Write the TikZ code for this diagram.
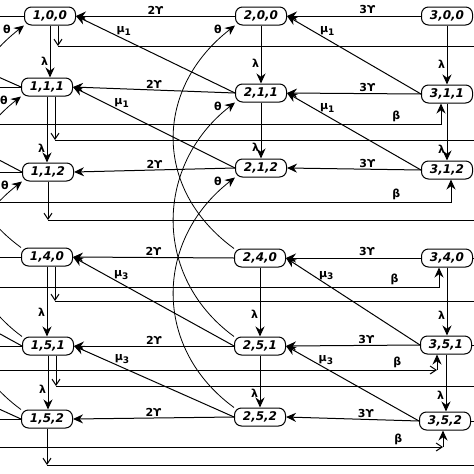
\documentclass[tikz,border=0pt]{standalone}
\usepackage{fontspec}
\setmainfont{DejaVu Sans}
\usetikzlibrary{arrows.meta}
\newcommand{\idx}[1]{\raisebox{-.45ex}{\fontsize{9}{10}\selectfont #1}}

\tikzset{
	st/.style={draw, line width=1pt, rounded corners=7pt, fill=white,
		minimum width=51pt, minimum height=18pt, inner sep=0pt,
		font=\fontsize{12}{13}\selectfont\bfseries\itshape},
	ghost/.style={minimum width=51pt, minimum height=18pt, inner sep=0pt},
	arr/.style={line width=1pt, -{Stealth[length=10pt,width=9pt]}},
	th/.style={line width=.8pt, -{Stealth[length=10pt,width=9pt]}},
	vt/.style={line width=1pt, -{Straight Barb[length=6pt,width=8pt]}},
	lbl/.style={font=\fontsize{11}{13}\selectfont\bfseries, inner sep=1.5pt},
}

\begin{document}
\begin{tikzpicture}[x=1pt, y=-1pt]
	\useasboundingbox (0,0) rectangle (474,474);
	\clip (0,0) rectangle (474,474);
	% states
	\node[st] (n100) at (50,16) {1,0,0};
	\node[st] (n200) at (261,16) {2,0,0};
	\node[st] (n300) at (447,16) {3,0,0};
	\node[st] (n111) at (47,87) {1,1,1};
	\node[st] (n211) at (261,93) {2,1,1};
	\node[st] (n311) at (447,94) {3,1,1};
	\node[st] (n112) at (48,172) {1,1,2};
	\node[st] (n212) at (261,168) {2,1,2};
	\node[st] (n312) at (447,170) {3,1,2};
	\node[st] (n140) at (47,257) {1,4,0};
	\node[st] (n240) at (260,258) {2,4,0};
	\node[st] (n340) at (447,258) {3,4,0};
	\node[st] (n151) at (48,346) {1,5,1};
	\node[st] (n251) at (260,346) {2,5,1};
	\node[st] (n351) at (446,345) {3,5,1};
	\node[st] (n152) at (47,419) {1,5,2};
	\node[st] (n252) at (260,417) {2,5,2};
	\node[st] (n352) at (445,421) {3,5,2};
	% column 0, outside the frame
	\node[ghost] (n000) at (-165,16) {};
	\node[ghost] (n011) at (-166,87) {};
	\node[ghost] (n012) at (-165,172) {};
	\node[ghost] (n040) at (-166,257) {};
	\node[ghost] (n051) at (-165,346) {};
	\node[ghost] (n052) at (-166,419) {};

	\draw[arr] (n200.west) -- (n100.east) node[lbl, midway, above] {2ϒ};
	\draw[arr] (n300.west) -- (n200.east) node[lbl, pos=.4, above] {3ϒ};
	\draw[arr] (n211.west) -- (n111.east) node[lbl, midway, above] {2ϒ};
	\draw[arr] (n311.west) -- (n211.east) node[lbl, pos=.4, above] {3ϒ};
	\draw[arr] (n212.west) -- (n112.east) node[lbl, midway, above] {2ϒ};
	\draw[arr] (n312.west) -- (n212.east) node[lbl, pos=.4, above] {3ϒ};
	\draw[arr] (n240.west) -- (n140.east) node[lbl, midway, above] {2ϒ};
	\draw[arr] (n340.west) -- (n240.east) node[lbl, pos=.4, above] {3ϒ};
	\draw[arr] (n251.west) -- (n151.east) node[lbl, midway, above] {2ϒ};
	\draw[arr] (n351.west) -- (n251.east) node[lbl, pos=.4, above] {3ϒ};
	\draw[arr] (n252.west) -- (n152.east) node[lbl, midway, above] {2ϒ};
	\draw[arr] (n352.west) -- (n252.east) node[lbl, pos=.4, above] {3ϒ};

	\draw[arr] (n311.west) -- (n200.east) node[lbl, pos=.7, above=2pt] {μ\idx{1}};
	\draw[arr] (n211.west) -- (n100.east) node[lbl, pos=.7, above=2pt] {μ\idx{1}};
	\draw[arr] (n312.west) -- (n211.east) node[lbl, pos=.7, above=2pt] {μ\idx{1}};
	\draw[arr] (n212.west) -- (n111.east) node[lbl, pos=.7, above=2pt] {μ\idx{1}};
	\draw[arr] (n351.west) -- (n240.east) node[lbl, pos=.7, above=2pt] {μ\idx{3}};
	\draw[arr] (n251.west) -- (n140.east) node[lbl, pos=.7, above=2pt] {μ\idx{3}};
	\draw[arr] (n352.west) -- (n251.east) node[lbl, pos=.7, above=2pt] {μ\idx{3}};
	\draw[arr] (n252.west) -- (n151.east) node[lbl, pos=.7, above=2pt] {μ\idx{3}};

	\draw[arr] (n100.west) -- (n000.east);
	\draw[arr] (n111.west) -- (n011.east);
	\draw[arr] (n111.west) -- (n000.east);
	\draw[arr] (n112.west) -- (n012.east);
	\draw[arr] (n112.west) -- (n011.east);
	\draw[arr] (n140.west) -- (n040.east);
	\draw[arr] (n151.west) -- (n051.east);
	\draw[arr] (n151.west) -- (n040.east);
	\draw[arr] (n152.west) -- (n052.east);
	\draw[arr] (n152.west) -- (n051.east);

	\foreach \a/\b/\p in {n100/n111/.68, n111/n112/.78, n200/n211/.65, n211/n212/.8,
		n300/n311/.65, n311/n312/.8, n140/n151/.66, n151/n152/.62, n240/n251/.68,
		n251/n252/.72, n340/n351/.7, n351/n352/.72}{
		\draw[arr] (\a) -- (\a |- \b.north) node[lbl, left, pos=\p] {λ};
	}

	\foreach \a/\b in {n140/n100, n151/n111, n152/n112, n240/n200, n251/n211, n252/n212}{
		\draw[th] (\a.north west) .. controls +(-82,-60) and +(-80,62) .. (\b.south west)
			node[lbl, pos=.95, above left=0pt] {θ};
	}

	% departures
	\coordinate (e1) at (480,46);
	\coordinate (e2) at (480,140);
	\coordinate (e3) at (480,220);
	\coordinate (e4) at (480,301);
	\coordinate (e5) at (480,386);
	\coordinate (e6) at (480,465);
	\foreach \n/\s/\e in {n100/8/e1, n111/8/e2, n112/0/e3, n140/8/e4, n151/8/e5, n152/0/e6}{
		\draw[vt] ([xshift=\s pt]\n.south) -- ([xshift=\s pt]\n.south |- \e);
		\draw[line width=1pt] ([xshift=\s pt]\n.south |- \e) -- (\e);
	}

	% beta
	\coordinate (w1) at (-5,124);
	\coordinate (w2) at (-5,202);
	\coordinate (w3) at (-5,287);
	\coordinate (w4) at (-5,370);
	\coordinate (w5) at (-5,447);
	\draw[arr] (w1) -| ([xshift=-6pt]n311.south) node[lbl, pos=.45, above] {β};
	\draw[arr] (w2) -| ([xshift=4pt]n312.south) node[lbl, pos=.44, above] {β};
	\draw[arr] (w3) -| ([xshift=-8pt]n340.south) node[lbl, pos=.45, above] {β};
	\coordinate (c4) at ([xshift=-9pt]n351.south);
	\coordinate (c5) at ([xshift=-2pt]n352.south);
	\draw[vt] (w4) -- (w4 -| c4) node[lbl, pos=.91, above] {β};
	\draw[arr] (w4 -| c4) -- (c4);
	\draw[vt] (w5) -- (w5 -| c5) node[lbl, pos=.9, above] {β};
	\draw[arr] (w5 -| c5) -- (c5);

	% to column 4
	\coordinate (r4) at (480,258);
	\coordinate (r5) at (480,345);
	\coordinate (r6) at (480,421);
	\draw[line width=1pt] (n340.east) -- (r4);
	\draw[line width=1pt] (n351.east) -- (r5);
	\draw[line width=1pt] (n352.east) -- (r6);
\end{tikzpicture}
\end{document}
